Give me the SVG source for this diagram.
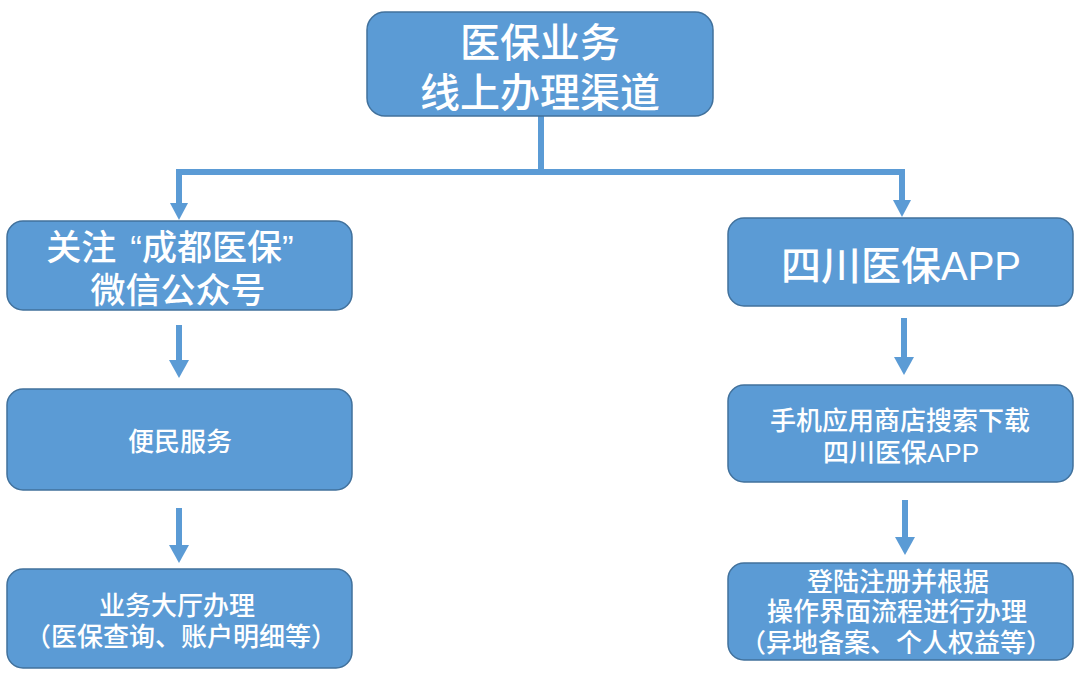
<svg xmlns="http://www.w3.org/2000/svg" width="1080" height="678" viewBox="0 0 1080 678">
<style>
.box{fill:#5b9bd5;stroke:#41719c;stroke-width:1.5}
.t{fill:#fff;font-family:"Liberation Sans","Noto Sans CJK SC",sans-serif;text-anchor:middle;font-weight:500}
.ln{stroke:#5b9bd5;stroke-width:6;fill:none}
.ah{fill:#5b9bd5}
</style>
<rect width="1080" height="678" fill="#fff"/>
<g id="connectors">
<path class="ln" d="M541 116V172M179 172H902M179 169V205M902 169V202"/>
<polygon class="ah" points="170,203 188,203 179,220"/>
<polygon class="ah" points="893,200 911,200 902,217"/>
<path class="ln" d="M179 325V361"/>
<polygon class="ah" points="169,360 189,360 179,378"/>
<path class="ln" d="M179 508V546"/>
<polygon class="ah" points="169,545 189,545 179,563"/>
<path class="ln" d="M904 318V358"/>
<polygon class="ah" points="894,357 914,357 904,375"/>
<path class="ln" d="M905 500V538"/>
<polygon class="ah" points="895,537 915,537 905,555"/>
</g>
<g id="top">
<rect class="box" x="367" y="12" width="346" height="104" rx="18"/>
<text class="t" font-size="40"><tspan x="540" y="57">医保业务</tspan><tspan x="540" y="107">线上办理渠道</tspan></text>
</g>
<g id="wechat">
<rect class="box" x="7" y="221" width="345" height="89" rx="16"/>
<text class="t" font-size="35" x="170" y="260">关注<tspan dx="14">“成都医保”</tspan></text>
<text class="t" font-size="35" x="178" y="303">微信公众号</text>
</g>
<g id="app">
<rect class="box" x="728" y="218" width="345" height="88" rx="16"/>
<text class="t" x="901" y="280" font-size="40">四川医保APP</text>
</g>
<g id="bianmin">
<rect class="box" x="7" y="389" width="345" height="101" rx="16"/>
<text class="t" x="180" y="451" font-size="26">便民服务</text>
</g>
<g id="dating">
<rect class="box" x="7" y="569" width="345" height="99" rx="16"/>
<text class="t" font-size="26"><tspan x="177" y="615">业务大厅办理</tspan><tspan x="181" y="646">（医保查询、账户明细等）</tspan></text>
</g>
<g id="download">
<rect class="box" x="728" y="385" width="345" height="97" rx="16"/>
<text class="t" font-size="26"><tspan x="900" y="430">手机应用商店搜索下载</tspan><tspan x="901" y="462">四川医保APP</tspan></text>
</g>
<g id="login">
<rect class="box" x="728" y="563" width="345" height="97" rx="16"/>
<text class="t" font-size="26"><tspan x="898" y="591">登陆注册并根据</tspan><tspan x="897" y="621">操作界面流程进行办理</tspan><tspan x="896" y="652">（异地备案、个人权益等）</tspan></text>
</g>
</svg>
